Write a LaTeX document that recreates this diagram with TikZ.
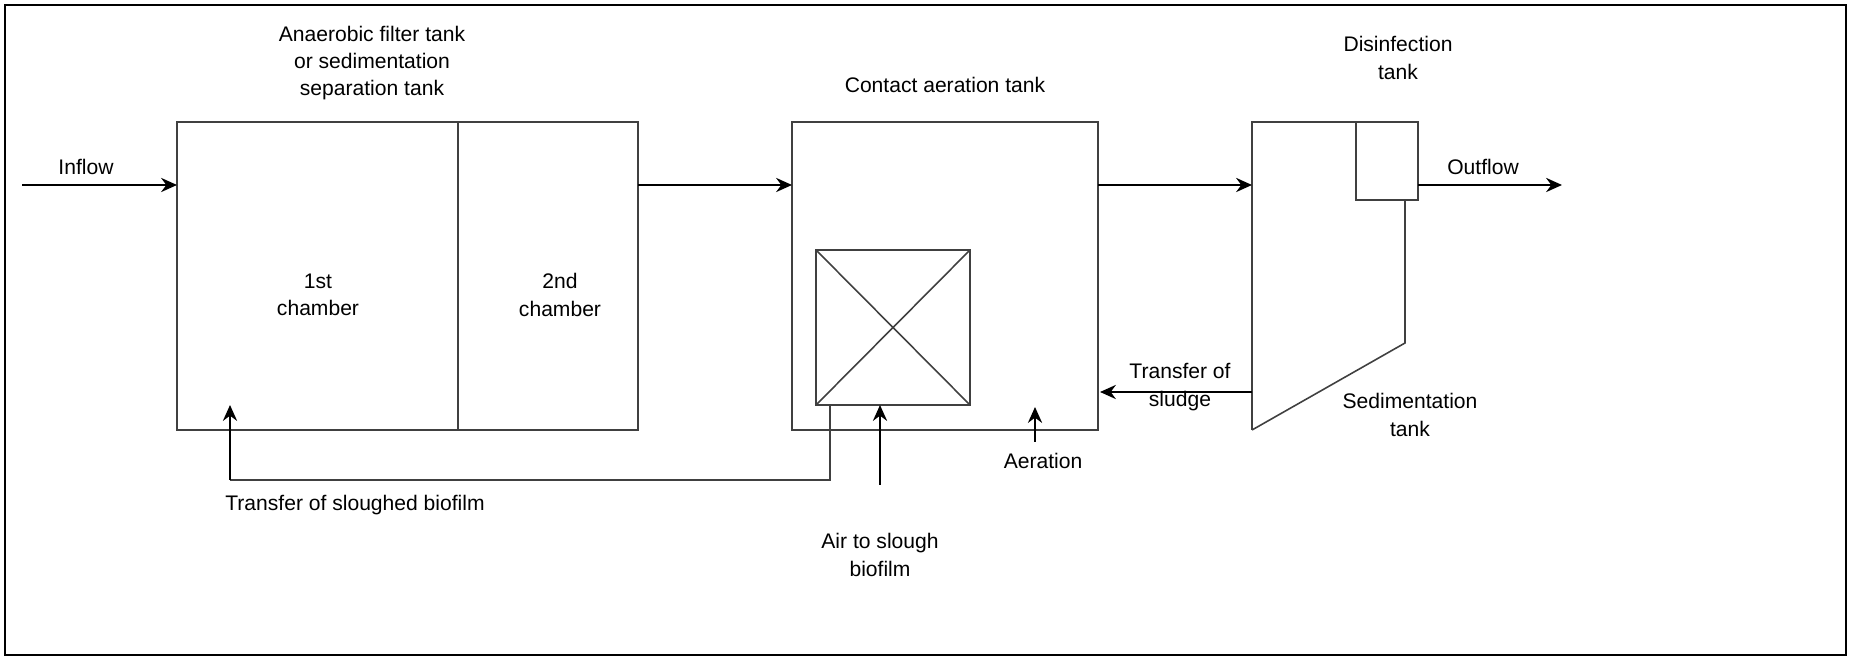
\documentclass[tikz,border=0pt]{standalone}
\usepackage{fontspec}
\setmainfont{Liberation Sans}
\usetikzlibrary{arrows.meta}
\tikzset{
  wall/.style={draw=black!75,line width=0.9pt},
  flow/.style={line width=1.6pt,-{Stealth[length=9pt,width=8pt]}},
  lbl/.style={align=center,font=\fontsize{12}{15.5}\selectfont,inner sep=0pt}
}
\begin{document}
\begin{tikzpicture}[x=0.02cm,y=-0.02cm]
  \useasboundingbox (0,0) rectangle (1852,661);
  \draw[line width=1pt] (5,5) rectangle (1846,655);
%tanks
  \draw[wall] (177,122) rectangle (638,430);
  \draw[wall] (458,122) -- (458,430);
  \draw[wall] (792,122) rectangle (1098,430);
  \draw[wall] (816,250) rectangle (970,405);
  \draw[wall] (816,250) -- (970,405) (816,405) -- (970,250);
  \draw[wall] (1252,430) -- (1252,122) -- (1418,122) -- (1418,200) -- (1356,200) -- (1356,122);
  \draw[wall] (1405,200) -- (1405,343) -- (1252,430);
%points
  \coordinate (in0) at (22,185);
  \coordinate (in1) at (177,185);
  \coordinate (a0) at (638,185);
  \coordinate (a1) at (792,185);
  \coordinate (b0) at (1098,185);
  \coordinate (b1) at (1252,185);
  \coordinate (out0) at (1418,185);
  \coordinate (out1) at (1562,185);
  \coordinate (s0) at (1252,392);
  \coordinate (s1) at (1100,392);
  \coordinate (r0) at (830,405);
  \coordinate (r1) at (830,480);
  \coordinate (r2) at (230,480);
  \coordinate (r3) at (230,405);
  \coordinate (air0) at (880,485);
  \coordinate (air1) at (880,405);
  \coordinate (ae0) at (1035,442);
  \coordinate (ae1) at (1035,407);
%labels
  \node[lbl] (anaer) at (372,63) {Anaerobic filter tank\\or sedimentation\\separation tank};
  \node[lbl] (contact) at (945,85) {Contact aeration tank};
  \node[lbl] (disinf) at (1398,58) {Disinfection\\tank};
  \node[lbl] (inflow) at (86,167) {Inflow};
  \node[lbl] (outflow) at (1483,167) {Outflow};
  \node[lbl] (first) at (318,295) {1st\\chamber};
  \node[lbl] (second) at (560,295) {2nd\\chamber};
  \node[lbl] (sloughed) at (355,505) {Transfer of sloughed biofilm};
  \node[lbl] (airtxt) at (880,555) {Air to slough\\biofilm};
  \node[lbl] (aeration) at (1043,461) {Aeration};
  \node[lbl] (sludge) at (1180,387) {Transfer of\\sludge};
  \node[lbl] (sedim) at (1410,415) {Sedimentation\\tank};
%flows
  \draw[flow] (in0) -- (in1);
  \draw[flow] (a0) -- (a1);
  \draw[flow] (b0) -- (b1);
  \draw[flow] (out0) -- (out1);
  \draw[flow] (s0) -- (s1);
  \draw[flow] (air0) -- (air1);
  \draw[flow] (ae0) -- (ae1);
  \draw[wall] (r0) -- (r1) -- (r2);
  \draw[flow] (r2) -- (r3);
\end{tikzpicture}
\end{document}
